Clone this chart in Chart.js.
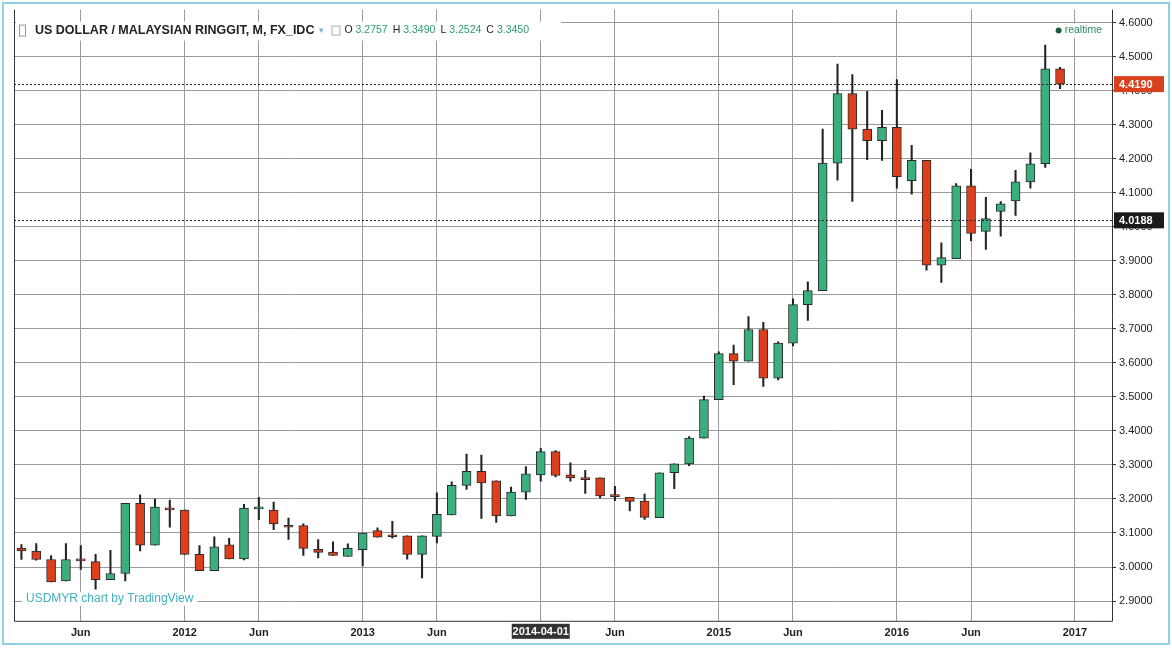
<!DOCTYPE html>
<html><head><meta charset="utf-8">
<script src="https://cdn.jsdelivr.net/npm/chart.js@4.4.1/dist/chart.umd.min.js"></script>
<style>html,body{margin:0;padding:0;background:#fff}#wrap{width:1172px;height:648px;position:relative}</style>
</head><body><div id="wrap"><canvas id="c" width="1172" height="648"></canvas></div>
<script>
const months = ["2011-02","2011-03","2011-04","2011-05","2011-06","2011-07","2011-08","2011-09","2011-10","2011-11","2011-12",
"2012-01","2012-02","2012-03","2012-04","2012-05","2012-06","2012-07","2012-08","2012-09","2012-10","2012-11","2012-12",
"2013-01","2013-02","2013-03","2013-04","2013-05","2013-06","2013-07","2013-08","2013-09","2013-10","2013-11","2013-12",
"2014-01","2014-02","2014-03","2014-04","2014-05","2014-06","2014-07","2014-08","2014-09","2014-10","2014-11","2014-12",
"2015-01","2015-02","2015-03","2015-04","2015-05","2015-06","2015-07","2015-08","2015-09","2015-10","2015-11","2015-12",
"2016-01","2016-02","2016-03","2016-04","2016-05","2016-06","2016-07","2016-08","2016-09","2016-10","2016-11","2016-12",
"2017-01","2017-02","2017-03"];
const openP = [3.056,3.047,3.022,2.959,3.020,3.016,2.963,2.981,3.187,3.064,3.173,
3.167,3.037,2.989,3.065,3.024,3.171,3.167,3.118,3.122,3.052,3.044,3.031,
3.051,3.107,3.092,3.092,3.037,3.090,3.153,3.240,3.281,3.253,3.150,3.220,
3.271,3.339,3.271,3.258,3.262,3.210,3.205,3.194,3.145,3.277,3.303,3.379,
3.492,3.627,3.605,3.698,3.555,3.658,3.771,3.812,4.187,4.391,4.287,4.253,
4.292,4.135,4.195,3.887,3.906,4.120,3.986,4.045,4.076,4.132,4.185,4.464];
const highP = [3.066,3.069,3.034,3.069,3.063,3.037,3.049,3.187,3.212,3.200,3.197,
3.167,3.063,3.089,3.084,3.184,3.205,3.191,3.144,3.127,3.081,3.074,3.068,
3.100,3.115,3.134,3.092,3.092,3.218,3.250,3.332,3.329,3.253,3.235,3.295,
3.349,3.342,3.306,3.284,3.262,3.237,3.205,3.214,3.277,3.303,3.383,3.502,
3.632,3.652,3.736,3.719,3.662,3.788,3.838,4.287,4.478,4.447,4.398,4.342,
4.432,4.239,4.195,3.953,4.127,4.169,4.086,4.074,4.166,4.217,4.534,4.468];
const lowP = [3.022,3.020,2.956,2.959,2.993,2.935,2.963,2.959,3.047,3.064,3.117,
3.037,2.989,2.989,3.024,3.021,3.139,3.110,3.081,3.034,3.027,3.034,3.031,
3.003,3.088,3.085,3.023,2.968,3.071,3.153,3.228,3.143,3.131,3.150,3.199,
3.252,3.265,3.252,3.216,3.203,3.195,3.165,3.140,3.145,3.230,3.298,3.379,
3.492,3.536,3.605,3.531,3.550,3.650,3.725,3.812,4.137,4.074,4.197,4.195,
4.113,4.096,3.872,3.836,3.906,3.958,3.933,3.972,4.033,4.113,4.174,4.406];
const closeP = [3.047,3.022,2.956,3.022,3.018,2.963,2.981,3.187,3.064,3.176,3.168,
3.037,2.989,3.059,3.024,3.173,3.175,3.127,3.117,3.055,3.043,3.034,3.055,
3.100,3.088,3.089,3.037,3.092,3.155,3.240,3.281,3.247,3.150,3.220,3.274,
3.339,3.269,3.262,3.257,3.209,3.207,3.193,3.146,3.277,3.303,3.379,3.492,
3.627,3.605,3.698,3.555,3.658,3.771,3.812,4.187,4.391,4.287,4.253,4.292,
4.147,4.195,3.887,3.909,4.120,3.980,4.024,4.067,4.132,4.185,4.464,4.419];
const yTicks = [2.9,3.0,3.1,3.2,3.3,3.4,3.5,3.6,3.7,3.8,3.9,4.0,4.1,4.2,4.3,4.4,4.5,4.6];
const lastPrice = 4.419, crossPrice = 4.0188;

const GREEN = '#3aae7c', RED = '#dd3f1d';
const bodies = openP.map((o,i)=>[Math.min(o,closeP[i]),Math.max(o,closeP[i])]);
const wicks = lowP.map((l,i)=>[l,highP[i]]);
const bodyColors = openP.map((o,i)=> closeP[i]>=o ? GREEN : RED);

function tickText(m){
  const [y,mo] = m.split('-');
  if (mo==='01') return y==='2014' ? '' : y;
  if (mo==='06') return 'Jun';
  return '';
}
const FONT = "'Liberation Sans Narrow','Liberation Sans',Arial,sans-serif";

const overlay = {
  id:'overlay',
  afterDraw(chart){
    const {ctx, chartArea:a, scales:{x,y}} = chart;
    ctx.save();
    ctx.setLineDash([2,2]); ctx.strokeStyle='#222'; ctx.lineWidth=1;
    [lastPrice, crossPrice].forEach(p=>{const py=Math.round(y.getPixelForValue(p))+0.5;ctx.beginPath();ctx.moveTo(a.left,py);ctx.lineTo(a.right,py);ctx.stroke();});
    ctx.setLineDash([]);
    ctx.font = "bold 11px "+FONT; ctx.textBaseline='middle'; ctx.textAlign='left';
    [[lastPrice,'#d9401c'],[crossPrice,'#1a1a1a']].forEach(([p,col])=>{
      const py=y.getPixelForValue(p);
      ctx.fillStyle=col; ctx.fillRect(a.right+2,py-8,50,16);
      ctx.fillStyle='#fff'; ctx.fillText(p.toFixed(4),a.right+7,py+1);
    });
    const i14 = months.indexOf('2014-01'); const px = x.getPixelForValue(i14);
    ctx.fillStyle='#333'; ctx.fillRect(px-29,a.bottom+3,58,15);
    ctx.fillStyle='#fff'; ctx.textAlign='center'; ctx.font="bold 11px "+FONT;
    ctx.fillText('2014-04-01',px,a.bottom+11);
    ctx.textAlign='left';
    const hy = a.top+21;
    ctx.fillStyle='#fff'; ctx.fillRect(a.left+2,hy-9,545,19);
    ctx.strokeStyle='#999'; ctx.lineWidth=1; ctx.strokeRect(a.left+5.5,hy-5.5,6,11);
    ctx.fillStyle='#222'; ctx.font="bold 12.5px "+FONT;
    let cx = a.left+21;
    const t='US DOLLAR / MALAYSIAN RINGGIT, M, FX_IDC';
    ctx.fillText(t,cx,hy); cx += ctx.measureText(t).width+5;
    ctx.fillStyle='#7aaed0'; ctx.font="9px "+FONT; ctx.fillText('▾',cx,hy); cx+=12;
    ctx.strokeStyle='#aaa'; ctx.strokeRect(cx+0.5,hy-4.5,8,9); cx+=13;
    ctx.font="10.5px "+FONT;
    [['O','3.2757'],['H','3.3490'],['L','3.2524'],['C','3.3450']].forEach(([k,v])=>{
      ctx.fillStyle='#222'; ctx.fillText(k,cx,hy); cx+=ctx.measureText(k).width+3;
      ctx.fillStyle='#2a9e6e'; ctx.fillText(v,cx,hy); cx+=ctx.measureText(v).width+5;
    });
    ctx.font="10.5px "+FONT;
    const rw = ctx.measureText('realtime').width;
    const rx = a.right-rw-16;
    ctx.fillStyle='#fff'; ctx.fillRect(rx-6,hy-7,rw+18,14);
    ctx.fillStyle='#1d5a3a'; ctx.beginPath(); ctx.arc(rx,hy,3,0,Math.PI*2); ctx.fill();
    ctx.fillStyle='#2a8a5e'; ctx.fillText('realtime',rx+6,hy);
    ctx.font="12px "+FONT;
    const w = ctx.measureText('USDMYR chart by TradingView').width;
    ctx.fillStyle='#fff'; ctx.fillRect(a.left+8,a.bottom-29,w+8,14);
    ctx.fillStyle='#3fb0c0'; ctx.fillText('USDMYR chart by TradingView',a.left+12,a.bottom-22);
    ctx.strokeStyle='#333'; ctx.lineWidth=1;
    ctx.beginPath(); ctx.moveTo(a.left+0.5,a.top); ctx.lineTo(a.left+0.5,a.bottom+0.5); ctx.lineTo(a.right+0.5,a.bottom+0.5); ctx.lineTo(a.right+0.5,a.top); ctx.stroke();
    ctx.strokeStyle='#8fd0e6'; ctx.lineWidth=2; ctx.strokeRect(3,3,1166,641);
    ctx.restore();
  }
};

new Chart(document.getElementById('c'), {
  type:'bar',
  data:{ labels: months, datasets:[
    {label:'wick', data:wicks, backgroundColor:'#222', borderWidth:0, barThickness:1.4, grouped:false, order:2},
    {label:'body', data:bodies, backgroundColor:bodyColors, borderColor:'#2a2a2a', borderWidth:1, borderSkipped:false, barThickness:9, minBarLength:2, grouped:false, order:1}
  ]},
  options:{
    responsive:false, animation:false, devicePixelRatio:1,
    layout:{padding:{left:14,top:3,right:2,bottom:2}},
    plugins:{legend:{display:false}, tooltip:{enabled:false}},
    scales:{
      x:{ offset:true,
        grid:{ color:(c)=> tickText(months[c.index]||'')!=='' || months[c.index]==='2014-01' ? '#9a9a9a' : 'rgba(0,0,0,0)', drawTicks:false, offset:false},
        border:{display:false},
        ticks:{ autoSkip:false, maxRotation:0, padding:6, color:'#222', font:{family:FONT, size:11, weight:'bold'},
          callback:(v,i)=> tickText(months[i]) }
      },
      y:{ position:'right', min:2.842, max:4.638,
        afterBuildTicks:(s)=>{ s.ticks = yTicks.map(v=>({value:v})); },
        grid:{ color:'#9a9a9a', drawTicks:true, tickLength:4, tickColor:'#333'},
        border:{display:false},
        ticks:{ padding:3, color:'#222', font:{family:FONT, size:11}, callback:(v)=> Number(v).toFixed(4) },
        afterFit:(s)=>{ s.width = 58; }
      }
    }
  },
  plugins:[overlay]
});
</script></body></html>
